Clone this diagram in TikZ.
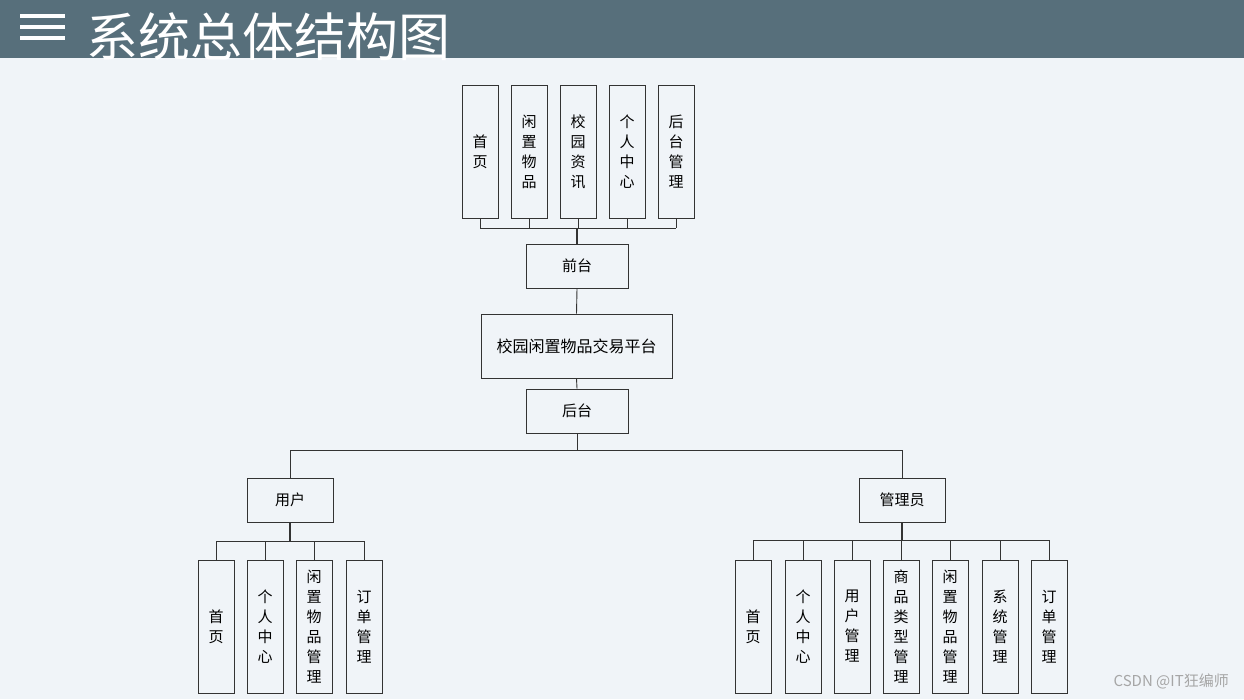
\documentclass[tikz,border=0pt]{standalone}
\usepackage{fontspec}
\setmainfont{Noto Sans CJK SC}
\definecolor{hdr}{HTML}{576F7B}
\definecolor{bg}{HTML}{F0F4F8}
\begin{document}
\begin{tikzpicture}[x=1pt,y=-1pt,
  box/.style={draw=black!80,line width=0.9pt,fill=bg,inner sep=0pt,align=center,font=\fontsize{15}{20}\selectfont},
  vb/.style={box,minimum width=36pt,minimum height=133pt},
  hb/.style={box,minimum width=102pt,minimum height=44pt},
  ln/.style={draw=black!80,line width=0.9pt}]
\fill[bg] (0,0) rectangle (1244,699);
\useasboundingbox (0,0) rectangle (1244,699);
\fill[hdr] (0,0) rectangle (1244,58);
\foreach \yy in {16,27,38} \fill[white] (20,\yy-1.6) rectangle (65,\yy+1.6);
\node[anchor=base west,text=white,font=\fontsize{52}{52}\selectfont,inner sep=0pt] (title) at (86,56) {系统总体结构图};
% top
\node[vb] (t1) at (480,152) {首\\页};
\node[vb] (t2) at (529,152) {闲\\置\\物\\品};
\node[vb] (t3) at (578,152) {校\\园\\资\\讯};
\node[vb] (t4) at (627,152) {个\\人\\中\\心};
\node[vb] (t5) at (676,152) {后\\台\\管\\理};
\node[hb] (front) at (577,266) {前台};
\node[box,minimum width=191pt,minimum height=64pt,font=\fontsize{16}{20}\selectfont] (plat) at (576.5,346) {校园闲置物品交易平台};
\node[hb] (back) at (577,411) {后台};
\node[box,minimum width=86pt,minimum height=44pt] (user) at (290,500) {用户};
\node[box,minimum width=86pt,minimum height=44pt] (admin) at (902,500) {管理员};
\node[vb] (u1) at (216,626.5) {首\\页};
\node[vb] (u2) at (265,626.5) {个\\人\\中\\心};
\node[vb] (u3) at (314,626.5) {闲\\置\\物\\品\\管\\理};
\node[vb] (u4) at (364,626.5) {订\\单\\管\\理};
\node[vb] (a1) at (753,626.5) {首\\页};
\node[vb] (a2) at (803,626.5) {个\\人\\中\\心};
\node[vb] (a3) at (852,626.5) {用\\户\\管\\理};
\node[vb] (a4) at (901,626.5) {商\\品\\类\\型\\管\\理};
\node[vb] (a5) at (950,626.5) {闲\\置\\物\\品\\管\\理};
\node[vb] (a6) at (1000,626.5) {系\\统\\管\\理};
\node[vb] (a7) at (1049,626.5) {订\\单\\管\\理};
% connectors
\coordinate (fb) at (577,228);
\foreach \n in {t1,t2,t3,t4,t5} \draw[ln] (\n.south) -- (\n.south |- fb);
\draw[ln] (t1.south |- fb) -- (t5.south |- fb);
\draw[ln,line width=1.4pt] (fb) -- (front.north);
\draw[ln] (front.south) -- (plat.north);
\draw[ln] (plat.south) -- (back.north);
\coordinate (bb) at (577,450);
\draw[ln] (back.south) -- (bb);
\draw[ln] (user.north |- bb) -- (admin.north |- bb);
\draw[ln] (user.north |- bb) -- (user.north);
\draw[ln] (admin.north |- bb) -- (admin.north);
\coordinate (ub) at (290,541);
\draw[ln,line width=1.4pt] (user.south) -- (ub);
\foreach \n in {u1,u2,u3,u4} \draw[ln] (\n.north) -- (\n.north |- ub);
\draw[ln] (u1.north |- ub) -- (u4.north |- ub);
\coordinate (ab) at (902,540);
\draw[ln,line width=1.4pt] (admin.south) -- (ab);
\foreach \n in {a1,a2,a3,a4,a5,a6,a7} \draw[ln] (\n.north) -- (\n.north |- ab);
\draw[ln] (a1.north |- ab) -- (a7.north |- ab);
\node[anchor=east,text=black!35,font=\fontsize{15}{15}\selectfont,inner sep=0pt] (wm) at (1229,681) {CSDN @IT狂编师};
\end{tikzpicture}
\end{document}
